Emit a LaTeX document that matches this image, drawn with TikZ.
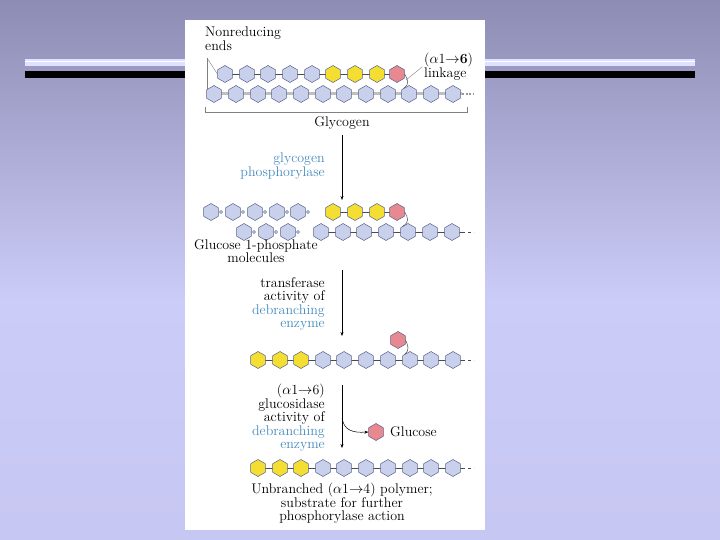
\documentclass[tikz,border=0pt]{standalone}
\usetikzlibrary{shapes.geometric,arrows.meta}
\definecolor{hb}{RGB}{200,208,235}
\definecolor{hy}{RGB}{245,222,50}
\definecolor{hr}{RGB}{232,136,144}
\definecolor{hs}{RGB}{90,100,140}
\definecolor{tb}{RGB}{70,140,190}
\definecolor{bgt}{RGB}{140,140,180}
\definecolor{bgb}{RGB}{204,204,248}
\begin{document}
\begin{tikzpicture}[x=1pt,y=-1pt,
  hex/.style={regular polygon,regular polygon sides=6,shape border rotate=30,minimum size=17pt,inner sep=0pt,draw=hs,line width=0.5pt},
  B/.style={hex,fill=hb},Y/.style={hex,fill=hy},R/.style={hex,fill=hr},
  link/.style={draw=black!70,line width=0.5pt},
  thick link/.style={draw=black!25,line width=3pt},
  lbl/.style={font=\fontsize{14}{13.5}\selectfont,inner sep=0pt},
  arr/.style={-{Stealth[length=4pt]},line width=0.5pt}]
\useasboundingbox (0,0) rectangle (720,540);
\shade[top color=bgt,bottom color=bgb] (0,0) rectangle (720,300);
\shade[top color=bgb,bottom color=bgb!92!bgt] (0,300) rectangle (720,540);
\fill[white!70!blue!40] (25,59) rectangle (695,66);
\fill[white] (25,61) rectangle (695,62.5);
\fill[black] (25,71) rectangle (695,78);
\fill[white] (185,20) rectangle (485,530);
% row 1
\draw[thick link] (214,94) -- (462,94);
\draw[black!40,line width=1.5pt,dash pattern=on 2pt off 1.5pt] (462,94) -- (474,94);
\draw[link] (225,74) -- (397,74);
\foreach \x [count=\i] in {225,247,268,290,312}{\node[B] (a\i) at (\x,74) {};}
\foreach \x [count=\i] in {333,355,377}{\node[Y] (ay\i) at (\x,74) {};}
\node[R] (ar) at (397,74) {};
\foreach \x [count=\i] in {214,236,258,279,301,323,344,366,388,409,431,453}{\node[B] (m\i) at (\x,94) {};}
\draw[link] (ar.east) .. controls (408,80) and (410,84) .. (m10.north west);
\node[lbl,anchor=north west,align=left] (nr) at (205,27) {Nonreducing\\ends};
\coordinate (nr1) at (207,58);
\draw[black!50,line width=0.4pt] (nr1) -- (207,90);
\draw[black!50,line width=0.4pt] (nr1) -- (a1.west);
\node[lbl,anchor=north west,align=left] (lk) at (424,53) {($\alpha$1$\rightarrow$\textbf{6})\\linkage};
\draw[black!50,line width=0.4pt] (422,67) -- (406,80);
\draw[black!50,line width=0.4pt] (205,107) -- (205,112) -- (467,112) -- (467,107);
\node[lbl] (gly) at (342,123) {Glycogen};
% arrow 1
\coordinate (s1) at (342,135); \coordinate (e1) at (342,200);
\draw[arr] (s1) -- (e1);
\node[lbl,anchor=north east,align=right,text=tb] (gp) at (325,153) {glycogen\\phosphorylase};
% row 2
\draw[link] (321,232) -- (462,232);
\draw[link,dashed] (462,232) -- (474,232);
\draw[link] (333,212) -- (397,212);
\foreach \x [count=\i] in {211,233,255,277,298}{\node[B] (p\i) at (\x,212) {}; \draw[hs,fill=white,line width=0.4pt] (\x+10,212) circle (1.5);}
\foreach \x [count=\i] in {244,266,288}{\node[B] (q\i) at (\x,232) {}; \draw[hs,fill=white,line width=0.4pt] (\x+10,232) circle (1.5);}
\foreach \x [count=\i] in {333,355,377}{\node[Y] (by\i) at (\x,212) {};}
\node[R] (br) at (397,212) {};
\foreach \x [count=\i] in {321,343,364,386,408,430,452}{\node[B] (n\i) at (\x,232) {};}
\draw[link] (br.east) .. controls (408,218) and (410,222) .. (n5.north west);
\node[lbl,align=center] (g1p) at (256,251) {Glucose 1-phosphate\\molecules};
% arrow 2
\coordinate (s2) at (342,270); \coordinate (e2) at (342,336);
\draw[arr] (s2) -- (e2);
\node[lbl,anchor=north east,align=right] (tr) at (325,277) {transferase\\activity of\\\textcolor{tb}{debranching}\\\textcolor{tb}{enzyme}};
% row 3
\draw[link] (258,360) -- (462,360);
\draw[link,dashed] (462,360) -- (474,360);
\foreach \x [count=\i] in {258,280,301}{\node[Y] (cy\i) at (\x,360) {};}
\foreach \x [count=\i] in {323,344,366,388,410,431,453}{\node[B] (c\i) at (\x,360) {};}
\node[R] (cr) at (398,340) {};
\draw[link] (cr.east) .. controls (408,346) and (410,350) .. (c5.north west);
% arrow 3
\coordinate (s3) at (342,385); \coordinate (e3) at (342,448);
\draw[arr] (s3) -- (e3);
\node[R] (glc) at (376,432) {};
\draw[arr] (342,418) .. controls (344,430) and (352,433) .. (glc.west);
\node[lbl,anchor=west] (glt) at (390,432) {Glucose};
\node[lbl,anchor=north east,align=right] (gd) at (325,384) {($\alpha$1$\rightarrow$6)\\glucosidase\\activity of\\\textcolor{tb}{debranching}\\\textcolor{tb}{enzyme}};
% row 4
\draw[link] (258,468) -- (462,468);
\draw[link,dashed] (462,468) -- (474,468);
\foreach \x [count=\i] in {258,280,301}{\node[Y] (dy\i) at (\x,468) {};}
\foreach \x [count=\i] in {323,344,366,388,410,431,453}{\node[B] (d\i) at (\x,468) {};}
\node[lbl,anchor=north,align=center] (cap) at (342,483) {Unbranched ($\alpha$1$\rightarrow$4) polymer;\\substrate for further\\phosphorylase action};
\end{tikzpicture}
\end{document}
